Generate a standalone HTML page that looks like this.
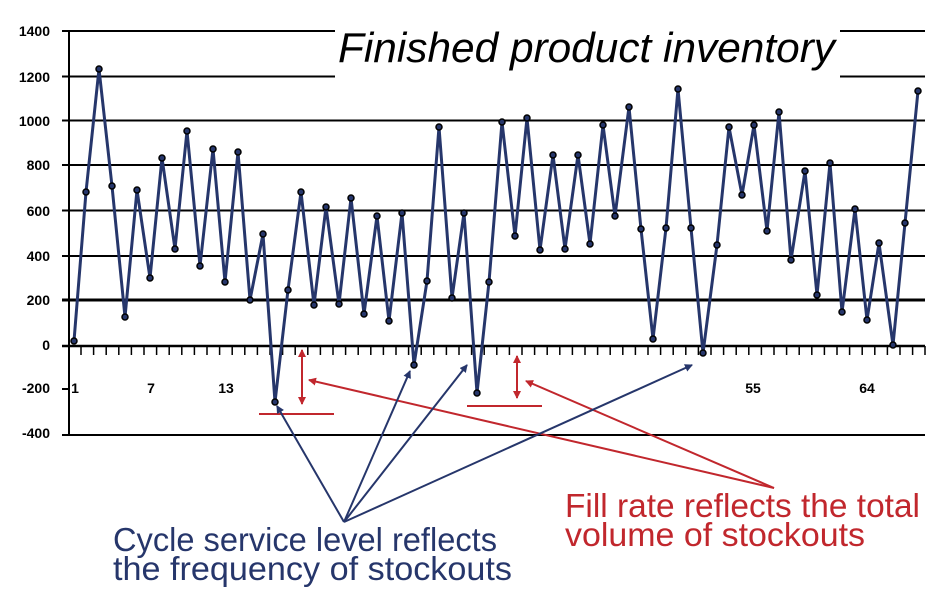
<!DOCTYPE html>
<html><head><meta charset="utf-8"><style>html,body{margin:0;padding:0;background:#fff}svg{display:block}</style></head>
<body>
<svg width="943" height="589" viewBox="0 0 943 589" xmlns="http://www.w3.org/2000/svg" font-family="Liberation Sans, sans-serif">
<defs>
<marker id="ar" markerWidth="8" markerHeight="8" refX="7" refY="4" orient="auto" markerUnits="userSpaceOnUse"><path d="M0,0 L8,4 L0,8 z" fill="#c1272d"/></marker>
<marker id="ab" markerWidth="8" markerHeight="8" refX="7" refY="4" orient="auto" markerUnits="userSpaceOnUse"><path d="M0,0 L8,4 L0,8 z" fill="#26366b"/></marker>
</defs>
<g stroke="#000" stroke-width="2">
<line x1="62" y1="31" x2="335" y2="31"/><line x1="840" y1="31" x2="925" y2="31"/>
<line x1="62" y1="76.5" x2="335" y2="76.5"/><line x1="840" y1="76.5" x2="925" y2="76.5"/>
<line x1="62" y1="120.5" x2="925" y2="120.5"/>
<line x1="62" y1="165" x2="925" y2="165"/>
<line x1="62" y1="210.5" x2="925" y2="210.5"/>
<line x1="62" y1="256" x2="925" y2="256"/>
<line x1="62" y1="300" x2="925" y2="300" stroke-width="3"/>
<line x1="62" y1="346" x2="925" y2="346" stroke-width="2.5"/>
<line x1="62" y1="435" x2="925" y2="435"/>
<line x1="62" y1="389" x2="69" y2="389"/>
<line x1="69" y1="31" x2="69" y2="435"/>
</g>
<path stroke="#000" stroke-width="1.5" d="M81,346v9M93.6,346v9M106.2,346v9M118.8,346v9M131.4,346v9M144,346v9M156.6,346v9M169.2,346v9M181.8,346v9M194.4,346v9M207,346v9M219.6,346v9M232.2,346v9M244.8,346v9M257.4,346v9M270,346v9M282.6,346v9M295.2,346v9M307.8,346v9M320.4,346v9M333,346v9M345.6,346v9M358.2,346v9M370.8,346v9M383.4,346v9M396,346v9M408.6,346v9M421.2,346v9M433.8,346v9M446.4,346v9M459,346v9M471.6,346v9M484.2,346v9M496.8,346v9M509.4,346v9M522,346v9M534.6,346v9M547.2,346v9M559.8,346v9M572.4,346v9M585,346v9M597.6,346v9M610.2,346v9M622.8,346v9M635.4,346v9M648,346v9M660.6,346v9M673.2,346v9M685.8,346v9M698.4,346v9M711,346v9M723.6,346v9M736.2,346v9M748.8,346v9M761.4,346v9M774,346v9M786.6,346v9M799.2,346v9M811.8,346v9M824.4,346v9M837,346v9M849.6,346v9M862.2,346v9M874.8,346v9M887.4,346v9M900,346v9M912.6,346v9M925,346v9"/>
<g font-size="14" font-weight="bold" text-anchor="end" fill="#000">
<text x="50" y="36">1400</text><text x="50" y="82">1200</text><text x="50" y="126">1000</text>
<text x="50" y="170">800</text><text x="50" y="216">600</text><text x="50" y="261">400</text>
<text x="50" y="305">200</text><text x="50" y="350">0</text><text x="50" y="393">-200</text><text x="50" y="438">-400</text>
</g>
<g font-size="14" font-weight="bold" text-anchor="middle" fill="#000">
<text x="75" y="393">1</text><text x="151" y="393">7</text><text x="226" y="393">13</text><text x="753" y="393">55</text><text x="867" y="393">64</text>
</g>
<text x="338" y="62" font-size="42" font-style="italic" fill="#000" textLength="497" lengthAdjust="spacingAndGlyphs">Finished product inventory</text>
<polyline fill="none" stroke="#26366b" stroke-width="3" stroke-linejoin="miter" points="74,341 86,192 99,69 112,186 125,317 137,190 150,278 162,158 175,249 187,131 200,266 213,149 225,282 238,152 250,300 263,234 275,402 288,290 301,192 314,305 326,207 339,304 351,198 364,314 377,216 389,321 402,213 414,365 427,281 439,127 452,298 464,213 477,393 489,282 502,122 515,236 527,118 540,250 553,155 565,249 578,155 590,244 603,125 615,216 629,107 641,229 653,339 666,228 678,89 691,228 703,353 717,245 729,127 742,195 754,125 767,231 779,112 791,260 805,171 817,295 830,163 842,312 855,209 867,320 879,243 893,345 905,223 918,91"/>
<g fill="#26366b" stroke="#000" stroke-width="1.5">
<circle cx="74" cy="341" r="3"/><circle cx="86" cy="192" r="3"/><circle cx="99" cy="69" r="3"/><circle cx="112" cy="186" r="3"/><circle cx="125" cy="317" r="3"/><circle cx="137" cy="190" r="3"/><circle cx="150" cy="278" r="3"/><circle cx="162" cy="158" r="3"/><circle cx="175" cy="249" r="3"/><circle cx="187" cy="131" r="3"/><circle cx="200" cy="266" r="3"/><circle cx="213" cy="149" r="3"/><circle cx="225" cy="282" r="3"/><circle cx="238" cy="152" r="3"/><circle cx="250" cy="300" r="3"/><circle cx="263" cy="234" r="3"/><circle cx="275" cy="402" r="3"/><circle cx="288" cy="290" r="3"/><circle cx="301" cy="192" r="3"/><circle cx="314" cy="305" r="3"/><circle cx="326" cy="207" r="3"/><circle cx="339" cy="304" r="3"/><circle cx="351" cy="198" r="3"/><circle cx="364" cy="314" r="3"/><circle cx="377" cy="216" r="3"/><circle cx="389" cy="321" r="3"/><circle cx="402" cy="213" r="3"/><circle cx="414" cy="365" r="3"/><circle cx="427" cy="281" r="3"/><circle cx="439" cy="127" r="3"/><circle cx="452" cy="298" r="3"/><circle cx="464" cy="213" r="3"/><circle cx="477" cy="393" r="3"/><circle cx="489" cy="282" r="3"/><circle cx="502" cy="122" r="3"/><circle cx="515" cy="236" r="3"/><circle cx="527" cy="118" r="3"/><circle cx="540" cy="250" r="3"/><circle cx="553" cy="155" r="3"/><circle cx="565" cy="249" r="3"/><circle cx="578" cy="155" r="3"/><circle cx="590" cy="244" r="3"/><circle cx="603" cy="125" r="3"/><circle cx="615" cy="216" r="3"/><circle cx="629" cy="107" r="3"/><circle cx="641" cy="229" r="3"/><circle cx="653" cy="339" r="3"/><circle cx="666" cy="228" r="3"/><circle cx="678" cy="89" r="3"/><circle cx="691" cy="228" r="3"/><circle cx="703" cy="353" r="3"/><circle cx="717" cy="245" r="3"/><circle cx="729" cy="127" r="3"/><circle cx="742" cy="195" r="3"/><circle cx="754" cy="125" r="3"/><circle cx="767" cy="231" r="3"/><circle cx="779" cy="112" r="3"/><circle cx="791" cy="260" r="3"/><circle cx="805" cy="171" r="3"/><circle cx="817" cy="295" r="3"/><circle cx="830" cy="163" r="3"/><circle cx="842" cy="312" r="3"/><circle cx="855" cy="209" r="3"/><circle cx="867" cy="320" r="3"/><circle cx="879" cy="243" r="3"/><circle cx="893" cy="345" r="3"/><circle cx="905" cy="223" r="3"/><circle cx="918" cy="91" r="3"/>
</g>
<g stroke="#c1272d" stroke-width="2" fill="none">
<line x1="259" y1="414" x2="334" y2="414"/>
<line x1="302" y1="360" x2="302" y2="404" marker-end="url(#ar)"/><line x1="302" y1="404" x2="302" y2="350" marker-end="url(#ar)"/>
<line x1="467" y1="406" x2="542" y2="406"/>
<line x1="517" y1="366" x2="517" y2="398" marker-end="url(#ar)"/><line x1="517" y1="398" x2="517" y2="356" marker-end="url(#ar)"/>
<line x1="774" y1="488" x2="309" y2="380" marker-end="url(#ar)"/>
<line x1="774" y1="488" x2="526" y2="381" marker-end="url(#ar)"/>
</g>
<g stroke="#26366b" stroke-width="2" fill="none">
<line x1="344" y1="522" x2="277" y2="406" marker-end="url(#ab)"/>
<line x1="344" y1="522" x2="410" y2="371" marker-end="url(#ab)"/>
<line x1="344" y1="522" x2="467" y2="365" marker-end="url(#ab)"/>
<line x1="344" y1="522" x2="692" y2="365" marker-end="url(#ab)"/>
</g>
<text x="565" y="517" font-size="33" fill="#c1272d" textLength="355" lengthAdjust="spacingAndGlyphs">Fill rate reflects the total</text>
<text x="565" y="546" font-size="33" fill="#c1272d" textLength="300" lengthAdjust="spacingAndGlyphs">volume of stockouts</text>
<text x="113" y="551" font-size="33" fill="#26366b" textLength="384" lengthAdjust="spacingAndGlyphs">Cycle service level reflects</text>
<text x="113" y="580" font-size="33" fill="#26366b" textLength="399" lengthAdjust="spacingAndGlyphs">the frequency of stockouts</text>
</svg>
</body></html>
